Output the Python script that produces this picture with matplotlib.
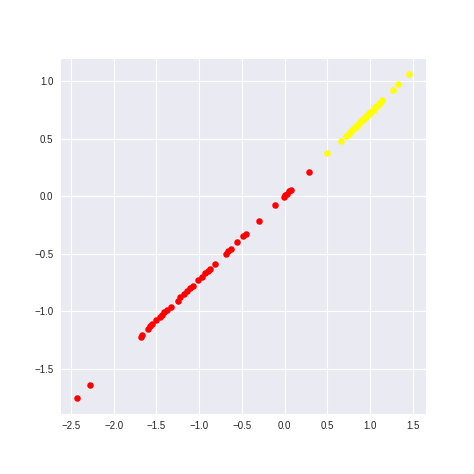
import matplotlib
matplotlib.use("Agg")
import matplotlib.pyplot as plt
import seaborn as sns

# valores
red_x = [-2.43, -2.28, -1.68, -1.67, -1.60, -1.57, -1.55, -1.50, -1.46, -1.43,
         -1.41, -1.38, -1.33, -1.25, -1.22, -1.18, -1.14, -1.11, -1.07, -1.01,
         -0.97, -0.93, -0.90, -0.87, -0.81, -0.69, -0.66, -0.63, -0.56, -0.49,
         -0.45, -0.30, -0.11, -0.01, 0.01, 0.03, 0.05, 0.07, 0.29]
red_y = [-1.75, -1.64, -1.22, -1.21, -1.15, -1.13, -1.11, -1.08, -1.05, -1.03,
         -1.01, -0.99, -0.96, -0.91, -0.88, -0.85, -0.82, -0.80, -0.78, -0.73,
         -0.70, -0.67, -0.65, -0.63, -0.59, -0.50, -0.48, -0.46, -0.40, -0.35,
         -0.33, -0.22, -0.08, -0.01, 0.01, 0.02, 0.04, 0.05, 0.21]

yellow_x = [0.50, 0.66, 0.72, 0.75, 0.77, 0.79, 0.81, 0.83, 0.85, 0.86,
            0.88, 0.89, 0.91, 0.92, 0.93, 0.95, 0.96, 0.97, 0.99, 1.00,
            1.01, 1.03, 1.04, 1.06, 1.08, 1.10, 1.12, 1.14, 1.27, 1.33, 1.46]
yellow_y = [0.37, 0.48, 0.52, 0.54, 0.56, 0.57, 0.59, 0.60, 0.62, 0.62,
            0.64, 0.65, 0.66, 0.67, 0.67, 0.69, 0.70, 0.70, 0.72, 0.73,
            0.73, 0.75, 0.75, 0.77, 0.78, 0.80, 0.81, 0.83, 0.92, 0.97, 1.06]

sns.set_style("darkgrid")
plt.rcParams['font.family'] = ['Liberation Sans', 'DejaVu Sans']

fig = plt.figure(figsize=(4.74, 4.74), dpi=100)
ax = fig.add_axes([0.127, 0.127, 0.772, 0.751])
ax.scatter(red_x, red_y, c="red", s=22, linewidths=0)
ax.scatter(yellow_x, yellow_y, c="yellow", s=22, linewidths=0)
ax.tick_params(labelsize=7, colors="#262626", length=0, pad=5)

fig.savefig("out.png", dpi=100)
